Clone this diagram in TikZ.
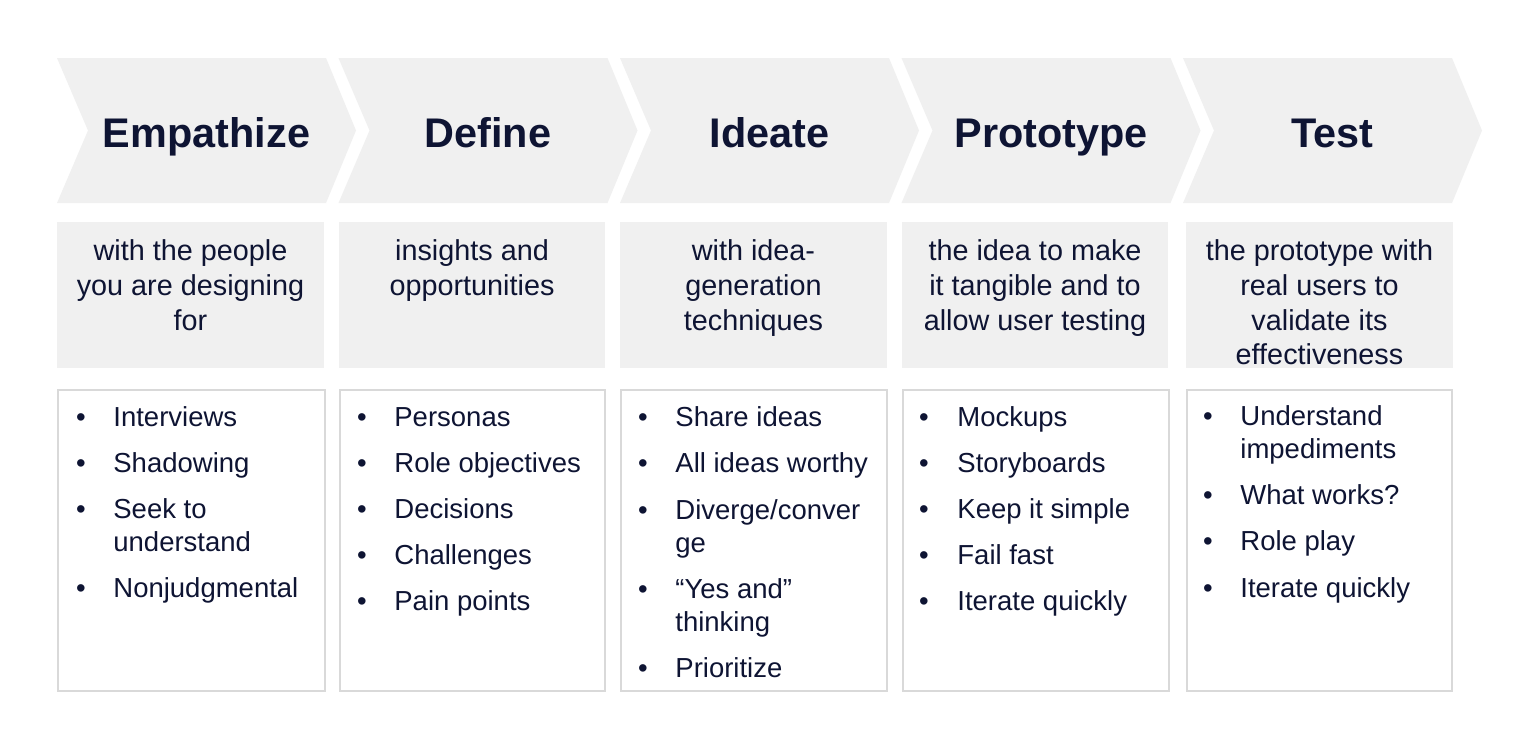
\documentclass[tikz,border=0pt]{standalone}
\usepackage{fontspec}
\setmainfont{Liberation Sans}
\definecolor{ink}{HTML}{0E1433}
\definecolor{panel}{HTML}{F0F0F0}
\definecolor{rim}{HTML}{D9D9D9}
\newcommand\bodyfnt{\fontsize{13.75}{16}\selectfont}
\newcommand\midfnt{\fontsize{14.4}{17}\selectfont}
\newcommand\headfnt{\fontsize{20.7}{24}\selectfont\bfseries}
\tikzset{
  chev/.style={fill=panel, draw=none},
  midbox/.style={fill=panel, draw=none},
  listbox/.style={draw=rim, line width=1pt, fill=white},
  head/.style={font=\headfnt, text=ink, inner sep=0pt, anchor=base},
  midtxt/.style={font=\midfnt, text=ink, inner sep=0pt, anchor=base},
  itemtxt/.style={font=\bodyfnt, text=ink, inner sep=0pt, anchor=base west},
  bul/.style={font=\bodyfnt, text=ink, inner sep=0pt, anchor=base}
}
\begin{document}
\begin{tikzpicture}[x=0.5pt,y=-0.5pt]
\useasboundingbox[fill=white] (0,0) rectangle (1536,746);
% chevrons
\foreach \L/\nm/\lab in {57/c1/Empathize, 338.5/c2/Define, 620/c3/Ideate, 901.5/c4/Prototype, 1183/c5/Test}{
  \path[chev] (\L,58) -- ++(269,0) -- ++(30,72.5) -- ++(-30,72.5) -- ++(-269,0) -- ++(31,-72.5) -- cycle;
  \node[head] (\nm) at (\L+149.5,147) {\lab};
}
% middle boxes
\foreach \L/\R/\nm in {57/324/m1, 339/605/m2, 620/887/m3, 902/1168/m4, 1186/1453/m5}{
  \path[midbox] (\L,222) rectangle (\R,368);
  \coordinate (\nm) at ({(\L+\R)/2},0);
}
% middle texts
\foreach \y/\t [count=\i] in {260/with the people, 295/you are designing, 330/for}
  \node[midtxt] (m1t\i) at (m1 |- 0,\y) {\t};
\foreach \y/\t [count=\i] in {260/insights and, 295/opportunities}
  \node[midtxt] (m2t\i) at (m2 |- 0,\y) {\t};
\foreach \y/\t [count=\i] in {260/with idea-, 295/generation, 330/techniques}
  \node[midtxt] (m3t\i) at (m3 |- 0,\y) {\t};
\foreach \y/\t [count=\i] in {260/the idea to make, 295/it tangible and to, 330/allow user testing}
  \node[midtxt] (m4t\i) at (m4 |- 0,\y) {\t};
\foreach \y/\t [count=\i] in {260/the prototype with, 295/real users to, 330/validate its, 364/effectiveness}
  \node[midtxt] (m5t\i) at (m5 |- 0,\y) {\t};
% list boxes
\foreach \L/\R/\nm in {57/326/l1, 339/606/l2, 620/888/l3, 902/1170/l4, 1186/1453/l5}{
  \path[listbox] (\L+1,390) rectangle (\R-1,691);
}
% list items: baseline / text / bullet?
\foreach \y/\t/\b [count=\i] in {426/Interviews/1, 472/Shadowing/1, 518/Seek to/1, 551/understand/0, 597/Nonjudgmental/1}{
  \node[itemtxt] (a\i) at (113,\y) {\t};
  \ifnum\b=1 \node[bul] (ab\i) at (81,\y) {•}; \fi
}
\foreach \y/\t/\b [count=\i] in {426/Personas/1, 472/Role objectives/1, 518/Decisions/1, 564/Challenges/1, 610/Pain points/1}{
  \node[itemtxt] (b\i) at (394,\y) {\t};
  \ifnum\b=1 \node[bul] (bb\i) at (362,\y) {•}; \fi
}
\foreach \y/\t/\b [count=\i] in {426/Share ideas/1, 472/All ideas worthy/1, 519/{Diverge/conver}/1, 552/ge/0, 598/“Yes and”/1, 631/thinking/0, 677/Prioritize/1}{
  \node[itemtxt] (c\i) at (675,\y) {\t};
  \ifnum\b=1 \node[bul] (cb\i) at (643,\y) {•}; \fi
}
\foreach \y/\t/\b [count=\i] in {426/Mockups/1, 472/Storyboards/1, 518/Keep it simple/1, 564/Fail fast/1, 610/Iterate quickly/1}{
  \node[itemtxt] (d\i) at (957,\y) {\t};
  \ifnum\b=1 \node[bul] (db\i) at (924,\y) {•}; \fi
}
\foreach \y/\t/\b [count=\i] in {425/Understand/1, 458/impediments/0, 504/What works?/1, 550/Role play/1, 597/Iterate quickly/1}{
  \node[itemtxt] (e\i) at (1240,\y) {\t};
  \ifnum\b=1 \node[bul] (eb\i) at (1208,\y) {•}; \fi
}
\end{tikzpicture}
\end{document}
